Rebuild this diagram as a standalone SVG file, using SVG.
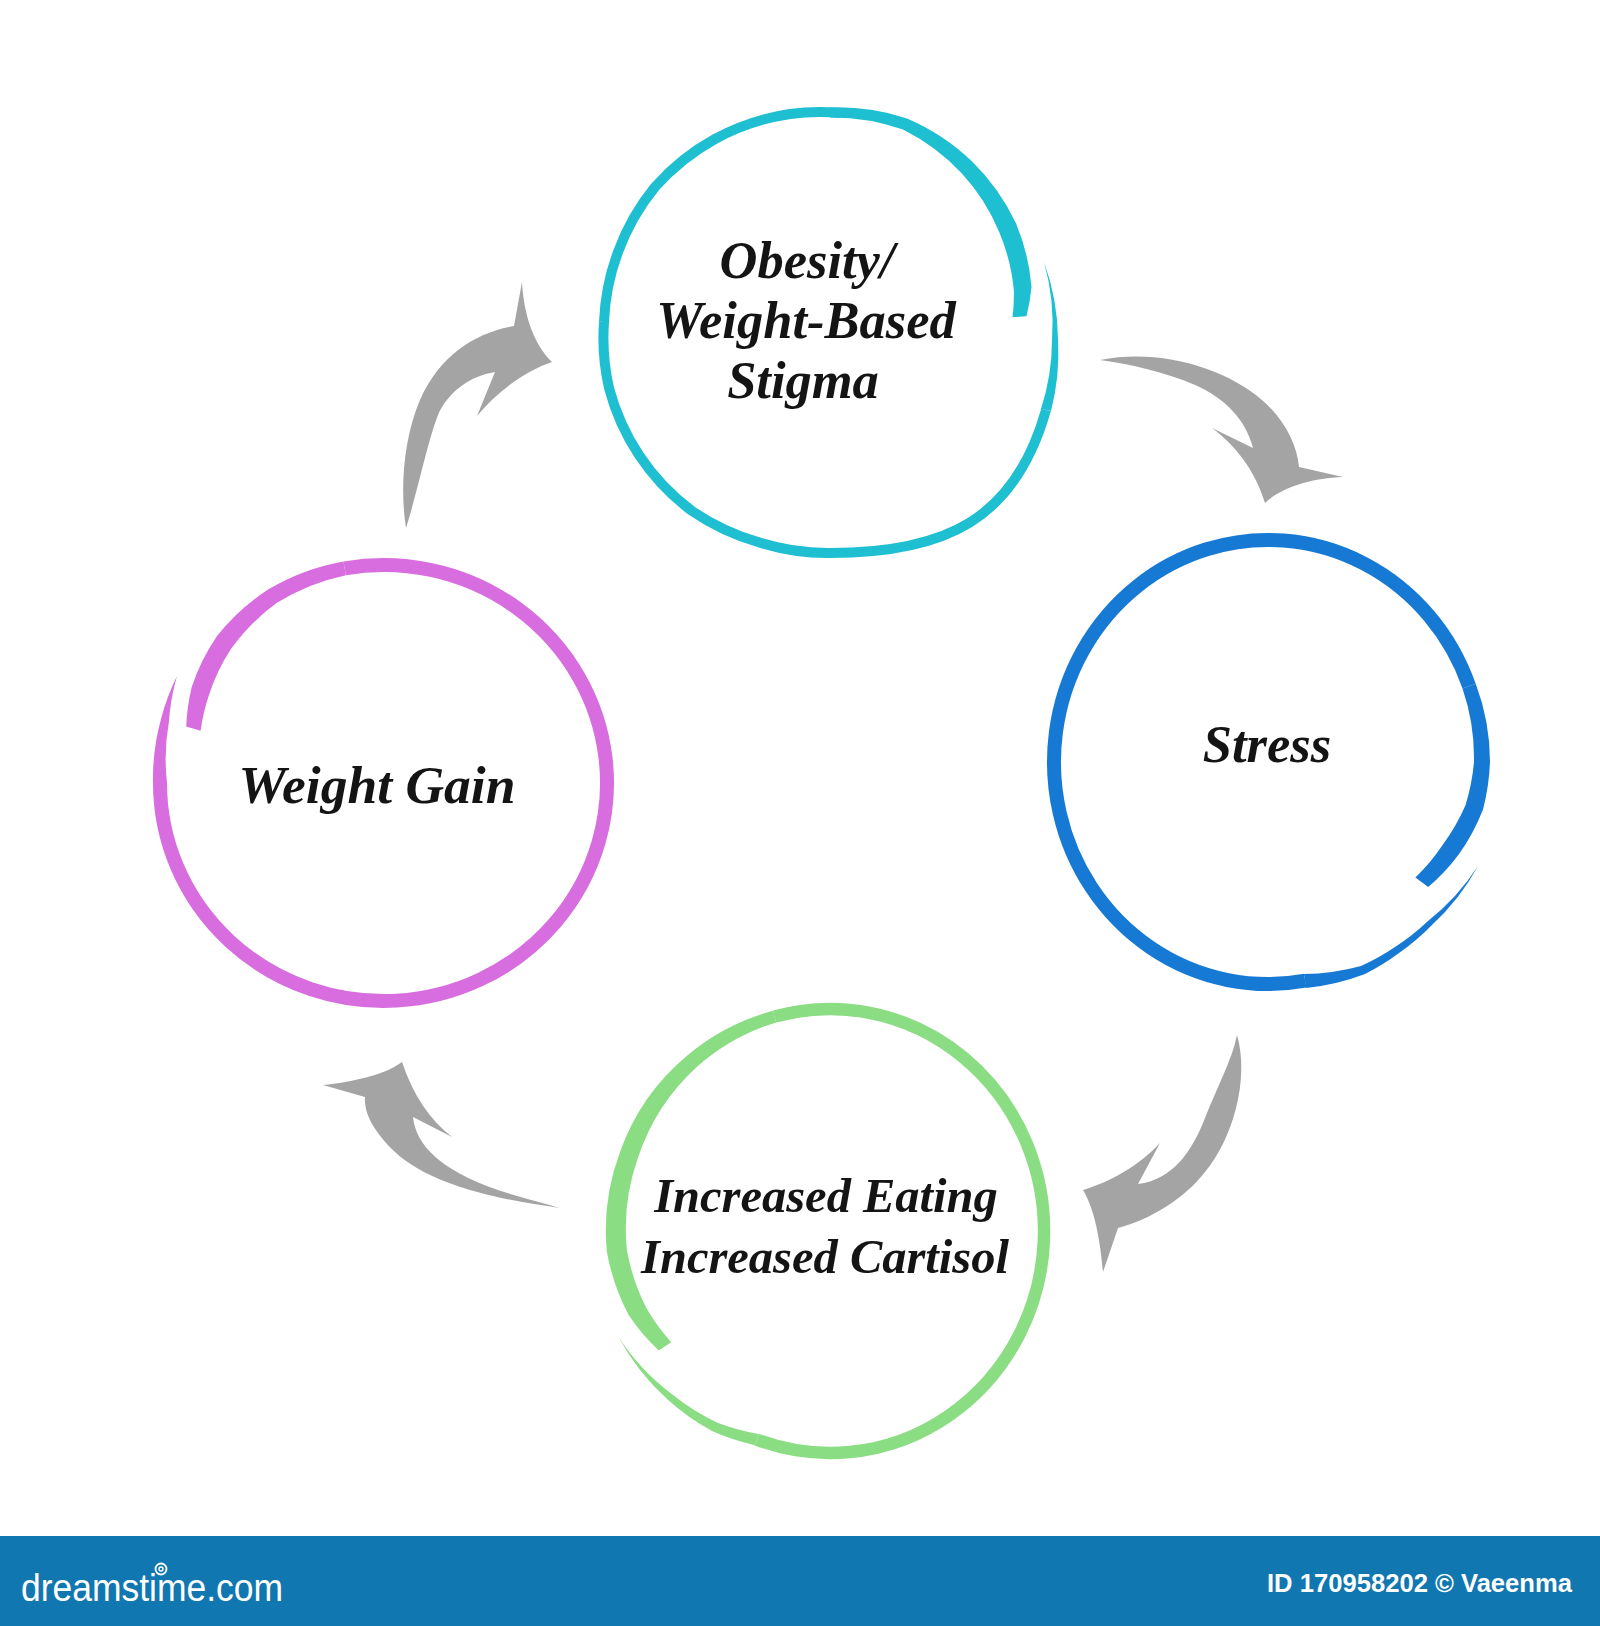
<svg xmlns="http://www.w3.org/2000/svg" width="1600" height="1626" viewBox="0 0 1600 1626">
<style>
.lbl{font-family:"Liberation Serif","Times New Roman",serif;font-style:italic;font-weight:bold;fill:#141414;text-anchor:middle}
.ring{fill:none;stroke-linecap:butt;stroke-linejoin:round}
.arrow{fill:#a4a4a4}
.c1{stroke:#1dbfd1}.f1{fill:#1dbfd1}
.c2{stroke:#1679d3}.f2{fill:#1679d3}
.c3{stroke:#8bdd83}.f3{fill:#8bdd83}
.c4{stroke:#d86ddf}.f4{fill:#d86ddf}
.foot{font-family:"Liberation Sans",Arial,sans-serif;fill:#ffffff}
</style>
<rect x="0" y="0" width="1600" height="1626" fill="#ffffff"/>

<g id="node-obesity">
<path class="f1" d="M 1044,262 A 230 230 0 0 1 1058,340 A 230 230 0 0 1 1051,411 L 1041,409 A 225 225 0 0 0 1052,340 A 225 225 0 0 0 1044,262 Z"/>
<path class="ring c1" stroke-width="10" d="M 1046,410 C 1015,520 945,553 830,553 A 225 225 0 0 1 758,542 A 225 225 0 0 1 692,511 A 225 225 0 0 1 639,455 A 225 225 0 0 1 609,388 A 225 225 0 0 1 604,322 A 225 225 0 0 1 618,252 A 225 225 0 0 1 655,187 A 225 225 0 0 1 715,139 A 225 225 0 0 1 790,114 A 225 225 0 0 1 840,113"/>
<path class="f1" d="M 830,107.5 A 225 225 0 0 1 907,118.4 A 218 218 0 0 1 972.1,161.4 A 210 210 0 0 1 1015.7,222.8 A 205 205 0 0 1 1031.5,287.1 A 200 200 0 0 1 1026.5,316.2 L 1012.5,317.2 A 190 190 0 0 0 1013.9,290.9 A 195 195 0 0 0 999.3,232.3 A 200 200 0 0 0 961.9,173.6 A 210 210 0 0 0 903,129.6 A 215 215 0 0 0 830,117.5 Z"/>
<text class="lbl" font-size="52.5" x="807" y="278">Obesity/</text>
<text class="lbl" font-size="52.5" x="806" y="338">Weight-Based</text>
<text class="lbl" font-size="52.5" x="803" y="398">Stigma</text>
</g>

<g id="node-stress">
<path class="f2" d="M 1478,866 A 230 230 0 0 1 1432,925 A 230 230 0 0 1 1399,953 A 230 230 0 0 1 1365,974 A 230 230 0 0 1 1306,988 L 1304,974 A 225 225 0 0 0 1361,966 A 225 225 0 0 0 1395,947 A 225 225 0 0 0 1428,921 A 225 225 0 0 0 1478,866 Z"/>
<path class="ring c2" stroke-width="14" d="M 1305.2,980.6 A 214 222 0 1 1 1469.1,686.1"/>
<path class="f2" d="M 1475.7,683.7 A 221 221 0 0 1 1490,762 A 221 221 0 0 1 1483,809.4 A 210 210 0 0 1 1458.9,854.2 A 200 200 0 0 1 1428.2,887 L 1415.4,877.4 A 190 190 0 0 0 1441.7,846.2 A 200 200 0 0 0 1465.4,805.6 A 210 210 0 0 0 1474,762 A 215 215 0 0 0 1462.5,688.5 Z"/>
<text class="lbl" font-size="52.5" x="1267" y="762">Stress</text>
</g>

<g id="node-eating">
<path class="f3" d="M 618,1336 A 230 230 0 0 0 667.6,1399.5 A 230 230 0 0 0 712.5,1431.3 A 230 230 0 0 0 754.8,1445.2 L 758.8,1434 A 220 220 0 0 1 717.5,1422.7 A 220 220 0 0 1 672.4,1394.5 A 220 220 0 0 1 618,1336 Z"/>
<path class="ring c3" stroke-width="12.5" d="M 756.8,1439.6 A 214 222 0 1 0 774.6,1016.6"/>
<path class="f3" d="M 773,1010.8 A 222 222 0 0 0 687.6,1055.2 A 222 222 0 0 0 620,1151.9 A 222 222 0 0 0 606.8,1251.2 A 215 215 0 0 0 628.8,1315.3 A 205 205 0 0 0 658.8,1350.6 L 671.2,1342.2 A 195 195 0 0 1 646.4,1308.1 A 205 205 0 0 1 626.8,1249.4 A 212 212 0 0 1 637.8,1158.3 A 215 215 0 0 1 697.2,1066.6 A 215 215 0 0 1 776.2,1022.4 Z"/>
<text class="lbl" font-size="48.5" x="826" y="1212">Increased Eating</text>
<text class="lbl" font-size="48.5" x="825" y="1273">Increased Cartisol</text>
</g>

<g id="node-weightgain">
<path class="f4" d="M 177,676 A 225 225 0 0 0 161,719 A 225 225 0 0 0 153,783 L 167,783 A 215 215 0 0 1 169,721 A 215 215 0 0 1 177,676 Z"/>
<path class="ring c4" stroke-width="14" d="M 160,783 A 223.5 218 0 1 0 344.7,568.3"/>
<path class="f4" d="M 343.5,561.4 A 225 225 0 0 0 268.9,589 A 215 215 0 0 0 217,636 A 205 205 0 0 0 191.8,686.8 A 200 200 0 0 0 186.2,726.6 L 200.6,730.8 A 190 190 0 0 1 208.8,695.4 A 195 195 0 0 1 231.1,648.8 A 205 205 0 0 1 276.9,602.8 A 215 215 0 0 1 345.9,575.2 Z"/>
<text class="lbl" font-size="53.5" x="377" y="803">Weight Gain</text>
</g>

<g id="connectors">
<path class="arrow" d="M 406,528 C 400,490 403,440 420,400 C 440,355 475,333 514,326 L 522,282 C 524,318 535,345 552,362 C 528,370 498,390 477,416 L 495,372 C 470,376 448,392 438,415 C 428,440 418,490 406,528 Z"/>
<path class="arrow" d="M 1100,360 C 1160,348 1225,368 1262,400 C 1285,420 1297,445 1299,467 L 1343,477 C 1312,478 1282,487 1265,503 C 1255,470 1235,445 1212,428 L 1253,448 C 1246,420 1225,398 1195,385 C 1165,372 1130,364 1100,360 Z"/>
<path class="arrow" d="M 1237,1035 C 1250,1080 1232,1140 1205,1172 C 1185,1198 1150,1220 1118,1228 L 1103,1272 C 1100,1240 1095,1210 1083,1190 C 1110,1182 1140,1165 1160,1143 L 1138,1184 C 1172,1180 1192,1152 1205,1118 C 1218,1085 1232,1060 1237,1035 Z"/>
<path class="arrow" d="M 560,1208 C 500,1200 430,1185 395,1152 C 372,1130 364,1112 365,1097 L 323,1085 C 352,1082 385,1075 402,1062 C 413,1095 430,1120 452,1137 L 413,1117 C 416,1145 440,1170 498,1190 C 522,1198 543,1203 560,1208 Z"/>
</g>

<g id="footer">
<rect x="0" y="1536" width="1600" height="90" fill="#1177b0"/>
<circle cx="161" cy="1569" r="5.5" fill="none" stroke="#ffffff" stroke-width="1.8"/>
<circle cx="161" cy="1569" r="2" fill="none" stroke="#ffffff" stroke-width="1.4"/>
<text class="foot" x="21" y="1601" font-size="38" textLength="262" lengthAdjust="spacingAndGlyphs">dreamstime.com</text>
<text class="foot" x="1267" y="1592" font-size="26" font-weight="bold" textLength="305" lengthAdjust="spacingAndGlyphs">ID 170958202 © Vaeenma</text>
</g>
</svg>
